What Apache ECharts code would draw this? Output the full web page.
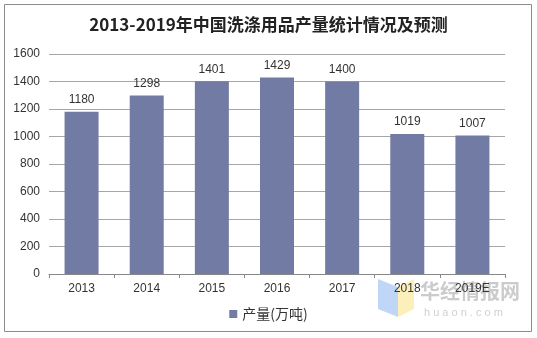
<!DOCTYPE html>
<html>
<head>
<meta charset="utf-8">
<script src="https://cdn.jsdelivr.net/npm/echarts@6/dist/echarts.min.js"></script>
<style>
  html, body { margin: 0; padding: 0; background: #fff; }
  #chart { width: 537px; height: 338px; }
</style>
</head>
<body>
<div id="chart"></div>
<script>
// Annual detergent output in China, 10k tonnes (2019 is a forecast)
const years = ['2013', '2014', '2015', '2016', '2017', '2018', '2019E'];
const output = [1180, 1298, 1401, 1429, 1400, 1019, 1007];
const seriesName = '产量(万吨)';
const titleText = '2013-2019年中国洗涤用品产量统计情况及预测';

const chart = echarts.init(document.getElementById('chart'), null, { renderer: 'canvas' });

chart.setOption({
  animation: false,
  backgroundColor: '#fff',
  title: {
    text: titleText,
    left: 'center',
    top: 11,
    textStyle: {
      fontFamily: '"Noto Sans CJK SC", serif',
      fontSize: 17,
      fontWeight: 'bold',
      color: '#222'
    }
  },
  legend: {
    bottom: 12,
    left: 'center',
    itemWidth: 8,
    itemHeight: 8,
    itemGap: 4,
    icon: 'rect',
    textStyle: {
      fontFamily: '"Noto Sans CJK SC", sans-serif',
      fontSize: 14,
      color: '#333'
    },
    data: [seriesName]
  },
  grid: { left: 49, right: 32, top: 54, bottom: 64, containLabel: false },
  xAxis: {
    type: 'category',
    data: years,
    axisLine: { lineStyle: { color: '#888', width: 1 } },
    axisTick: { show: true, length: 4, lineStyle: { color: '#888' } },
    axisLabel: {
      fontFamily: '"Liberation Sans", Arial, sans-serif',
      fontSize: 12,
      color: '#333',
      margin: 9
    }
  },
  yAxis: {
    type: 'value',
    min: 0,
    max: 1600,
    interval: 200,
    axisLine: { show: false },
    axisTick: { show: false },
    splitLine: { lineStyle: { color: '#a6a6a6', width: 1 } },
    axisLabel: {
      fontFamily: '"Liberation Sans", Arial, sans-serif',
      fontSize: 12,
      color: '#333',
      margin: 9,
      formatter: (v) => String(v)
    }
  },
  series: [{
    name: seriesName,
    type: 'bar',
    data: output,
    barWidth: 34,
    itemStyle: { color: '#717ba3' },
    label: {
      show: true,
      position: 'top',
      distance: 6,
      fontFamily: '"Liberation Sans", Arial, sans-serif',
      fontSize: 12,
      color: '#333'
    }
  }],
  graphic: [
    {
      type: 'rect',
      shape: { x: 4.5, y: 4.5, width: 527, height: 327 },
      style: { fill: 'none', stroke: '#8c8c8c', lineWidth: 1 },
      silent: true
    },
    // site watermark
    {
      type: 'group',
      left: 378,
      top: 279,
      silent: true,
      children: [
        { type: 'polygon', shape: { points: [[0, 0], [20, 8], [20, 38], [0, 30]] }, style: { fill: 'rgba(140,180,240,0.55)' } },
        { type: 'polygon', shape: { points: [[20, 8], [36, 0], [36, 30], [20, 38]] }, style: { fill: 'rgba(250,225,130,0.55)' } },
        { type: 'text', style: { x: 42, y: 2, text: '华经情报网', font: 'bold 20px "Noto Sans CJK SC"', fill: 'rgba(160,160,160,0.55)' } },
        { type: 'text', style: { x: 46, y: 28, text: 'h u a o n . c o m', font: '11px "Liberation Sans"', fill: 'rgba(170,170,170,0.55)' } }
      ]
    }
  ]
});
</script>
</body>
</html>
